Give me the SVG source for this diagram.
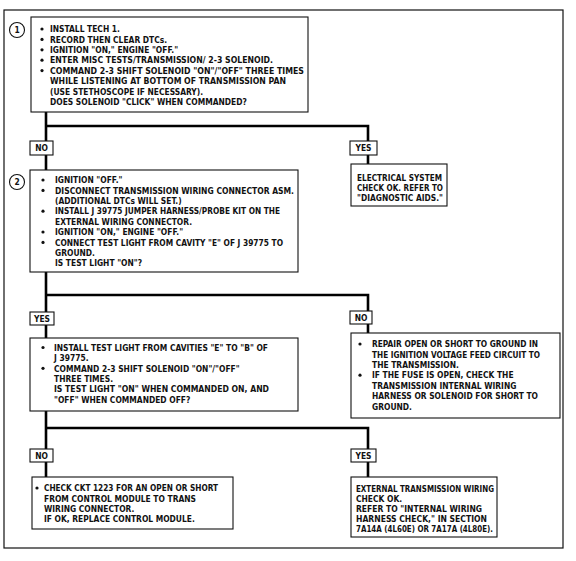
<svg xmlns="http://www.w3.org/2000/svg" width="576" height="561" viewBox="0 0 576 561">
<style>
.bg{fill:#fff}
.frame{fill:none;stroke:#111;stroke-width:1.2}
.box{fill:#fff;stroke:#111;stroke-width:1.1}
.wire{fill:none;stroke:#000;stroke-width:2.6}
.t{font-family:"DejaVu Sans Condensed","DejaVu Sans","Liberation Sans",sans-serif;font-weight:bold;font-size:8.4px;fill:#111}
.c{text-anchor:middle}
.dot{fill:#111}
</style>
<rect class="bg" x="0" y="0" width="576" height="561"/>
<rect class="frame" x="4" y="10" width="559" height="538"/>

<g id="connectors">
<path class="wire" d="M46 112 V170"/>
<path class="wire" d="M46 126 H368 V164"/>
<path class="wire" d="M46 272 V338"/>
<path class="wire" d="M46 295 H368 V333"/>
<path class="wire" d="M46 410 V477"/>
<path class="wire" d="M46 428 H368 V477"/>
</g>

<g id="step1">
<circle cx="17" cy="30" r="7.5" fill="#fff" stroke="#111" stroke-width="1.1"/>
<text class="t c" x="17" y="33.2">1</text>
<rect class="box" x="31" y="17" width="277" height="95"/>
<circle class="dot" cx="42" cy="29" r="1.6"/>
<circle class="dot" cx="42" cy="39.4" r="1.6"/>
<circle class="dot" cx="42" cy="49.8" r="1.6"/>
<circle class="dot" cx="42" cy="60.2" r="1.6"/>
<circle class="dot" cx="42" cy="70.6" r="1.6"/>
<text class="t" x="50" y="32.2">INSTALL TECH 1.</text>
<text class="t" x="50" y="42.6">RECORD THEN CLEAR DTCs.</text>
<text class="t" x="50" y="53">IGNITION "ON,"  ENGINE "OFF."</text>
<text class="t" x="50" y="63.4" textLength="223" lengthAdjust="spacingAndGlyphs">ENTER MISC TESTS/TRANSMISSION/ 2-3 SOLENOID.</text>
<text class="t" x="50" y="73.8" textLength="254" lengthAdjust="spacingAndGlyphs">COMMAND 2-3 SHIFT SOLENOID "ON"/"OFF" THREE TIMES</text>
<text class="t" x="50" y="84.2" textLength="236" lengthAdjust="spacingAndGlyphs">WHILE LISTENING AT BOTTOM OF TRANSMISSION PAN</text>
<text class="t" x="50" y="94.6">(USE STETHOSCOPE IF NECESSARY).</text>
<text class="t" x="50" y="105">DOES SOLENOID "CLICK" WHEN COMMANDED?</text>
</g>

<g id="no1">
<rect class="box" x="30" y="141" width="23" height="14"/>
<text class="t c" x="41.5" y="151.1">NO</text>
</g>

<g id="yes1">
<rect class="box" x="350" y="141" width="27" height="14"/>
<text class="t c" x="363.5" y="151.1">YES</text>
</g>

<g id="electrical-ok">
<rect class="box" x="351" y="164" width="96" height="42"/>
<text class="t" x="357" y="180.5" textLength="85" lengthAdjust="spacingAndGlyphs">ELECTRICAL SYSTEM</text>
<text class="t" x="357" y="190.9" textLength="86" lengthAdjust="spacingAndGlyphs">CHECK OK.  REFER TO</text>
<text class="t" x="357" y="201.3" textLength="86" lengthAdjust="spacingAndGlyphs">"DIAGNOSTIC AIDS."</text>
</g>

<g id="step2">
<circle cx="17" cy="182" r="7.5" fill="#fff" stroke="#111" stroke-width="1.1"/>
<text class="t c" x="17" y="185.2">2</text>
<rect class="box" x="30" y="170" width="268" height="102"/>
<circle class="dot" cx="43" cy="180" r="1.6"/>
<circle class="dot" cx="43" cy="190.4" r="1.6"/>
<circle class="dot" cx="43" cy="211.2" r="1.6"/>
<circle class="dot" cx="43" cy="232" r="1.6"/>
<circle class="dot" cx="43" cy="242.4" r="1.6"/>
<text class="t" x="55" y="183.2">IGNITION "OFF."</text>
<text class="t" x="55" y="193.6" textLength="239" lengthAdjust="spacingAndGlyphs">DISCONNECT TRANSMISSION WIRING CONNECTOR ASM.</text>
<text class="t" x="55" y="204">(ADDITIONAL DTCs WILL SET.)</text>
<text class="t" x="55" y="214.4" textLength="225" lengthAdjust="spacingAndGlyphs">INSTALL J 39775 JUMPER HARNESS/PROBE KIT ON THE</text>
<text class="t" x="55" y="224.8">EXTERNAL WIRING CONNECTOR.</text>
<text class="t" x="55" y="235.2">IGNITION "ON," ENGINE "OFF."</text>
<text class="t" x="55" y="245.6" textLength="228" lengthAdjust="spacingAndGlyphs">CONNECT TEST LIGHT FROM CAVITY "E" OF J 39775 TO</text>
<text class="t" x="55" y="256">GROUND.</text>
<text class="t" x="55" y="266.4">IS TEST LIGHT "ON"?</text>
</g>

<g id="yes2">
<rect class="box" x="30" y="312" width="24" height="13"/>
<text class="t c" x="42" y="321.6">YES</text>
</g>

<g id="no2">
<rect class="box" x="350" y="311" width="22" height="13"/>
<text class="t c" x="361" y="320.6">NO</text>
</g>

<g id="step3">
<rect class="box" x="30" y="338" width="268" height="73"/>
<circle class="dot" cx="43" cy="347.5" r="1.6"/>
<circle class="dot" cx="43" cy="368.3" r="1.6"/>
<text class="t" x="54" y="350.7" textLength="214" lengthAdjust="spacingAndGlyphs">INSTALL TEST LIGHT FROM CAVITIES "E" TO "B" OF</text>
<text class="t" x="54" y="361.1">J 39775.</text>
<text class="t" x="54" y="371.5">COMMAND 2-3 SHIFT SOLENOID "ON"/"OFF"</text>
<text class="t" x="54" y="381.9">THREE TIMES.</text>
<text class="t" x="54" y="392.3" textLength="215" lengthAdjust="spacingAndGlyphs">IS TEST LIGHT "ON" WHEN COMMANDED ON, AND</text>
<text class="t" x="54" y="402.7">"OFF" WHEN COMMANDED OFF?</text>
</g>

<g id="repair">
<rect class="box" x="351" y="333" width="209" height="85"/>
<circle class="dot" cx="360" cy="344" r="1.6"/>
<circle class="dot" cx="360" cy="375.2" r="1.6"/>
<text class="t" x="372" y="347.2" textLength="166" lengthAdjust="spacingAndGlyphs">REPAIR OPEN OR SHORT TO GROUND IN</text>
<text class="t" x="372" y="357.6" textLength="168" lengthAdjust="spacingAndGlyphs">THE  IGNITION VOLTAGE FEED CIRCUIT TO</text>
<text class="t" x="372" y="368">THE TRANSMISSION.</text>
<text class="t" x="372" y="378.4">IF THE FUSE IS OPEN, CHECK THE</text>
<text class="t" x="372" y="388.8">TRANSMISSION INTERNAL WIRING</text>
<text class="t" x="372" y="399.2" textLength="166" lengthAdjust="spacingAndGlyphs">HARNESS OR SOLENOID FOR SHORT TO</text>
<text class="t" x="372" y="409.6">GROUND.</text>
</g>

<g id="no3">
<rect class="box" x="30" y="449" width="23" height="13"/>
<text class="t c" x="41.5" y="458.6">NO</text>
</g>

<g id="yes3">
<rect class="box" x="351" y="449" width="25" height="13"/>
<text class="t c" x="363.5" y="458.6">YES</text>
</g>

<g id="check-ckt">
<rect class="box" x="32" y="477" width="201" height="52"/>
<circle class="dot" cx="37" cy="488" r="1.6"/>
<text class="t" x="44" y="491.2" textLength="174" lengthAdjust="spacingAndGlyphs">CHECK CKT 1223 FOR AN OPEN OR SHORT</text>
<text class="t" x="44" y="501.6">FROM CONTROL MODULE TO TRANS</text>
<text class="t" x="44" y="512">WIRING CONNECTOR.</text>
<text class="t" x="44" y="522.4">IF OK, REPLACE CONTROL MODULE.</text>
</g>

<g id="external-ok">
<rect class="box" x="351" y="477" width="146" height="60"/>
<text class="t" x="356" y="491.6" textLength="138" lengthAdjust="spacingAndGlyphs">EXTERNAL TRANSMISSION WIRING</text>
<text class="t" x="356" y="501.6">CHECK OK.</text>
<text class="t" x="356" y="511.6" textLength="126" lengthAdjust="spacingAndGlyphs">REFER TO "INTERNAL WIRING</text>
<text class="t" x="356" y="521.6" textLength="131" lengthAdjust="spacingAndGlyphs">HARNESS CHECK," IN SECTION</text>
<text class="t" x="356" y="531.6" textLength="137" lengthAdjust="spacingAndGlyphs">7A14A (4L60E) OR 7A17A (4L80E).</text>
</g>
</svg>
